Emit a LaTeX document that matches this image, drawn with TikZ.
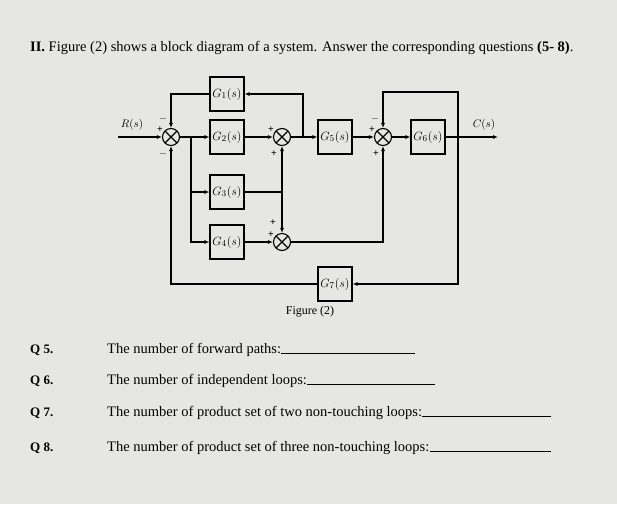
\documentclass[tikz,border=0pt]{standalone}
\usepackage{fontspec}
\setmainfont{Liberation Serif}
\usetikzlibrary{arrows.meta}
\definecolor{bg}{HTML}{E6E6E4}
\begin{document}
\begin{tikzpicture}[x=1pt,y=-1pt,
 blk/.style={draw,line width=1.1pt,minimum width=34pt,minimum height=34pt,inner sep=0pt,font=\fontsize{12.5}{13}\selectfont},
 sm/.style={draw,circle,line width=1.1pt,minimum size=17pt,inner sep=0pt,path picture={\draw[line width=1.1pt] ([shift={(-6pt,6pt)}]path picture bounding box.center) -- ++(12pt,-12pt) ([shift={(-6pt,-6pt)}]path picture bounding box.center) -- ++(12pt,12pt);}},
 ln/.style={line width=1.1pt},
 ar/.style={ln,-{Latex[length=5pt,width=4pt]}},
 sg/.style={font=\fontsize{10}{10}\selectfont\bfseries,inner sep=0pt},
 txt/.style={font=\fontsize{14.5}{16}\selectfont,anchor=base west,inner sep=0pt},
 bl/.style={line width=0.8pt}]
\fill[bg] (0,0) rectangle (617,504);
\useasboundingbox (0,0) rectangle (617,504);
\node[txt] (hd) at (30,51) {\textbf{II.} Figure (2) shows a block diagram of a system. Answer the corresponding questions \textbf{(5- 8)}.};
\node[sm] (s1) at (171,137) {};
\node[sm] (s2) at (282,137) {};
\node[sm] (s3) at (282,242) {};
\node[sm] (s4) at (383,137) {};
\node[blk] (g1) at (227,94) {$G_1(s)$};
\node[blk] (g2) at (227,137) {$G_2(s)$};
\node[blk] (g3) at (227,192) {$G_3(s)$};
\node[blk] (g4) at (227,242) {$G_4(s)$};
\node[blk] (g5) at (335,137) {$G_5(s)$};
\node[blk] (g6) at (428,137) {$G_6(s)$};
\node[blk] (g7) at (335,284) {$G_7(s)$};
\coordinate (in) at (118,137);
\coordinate (out) at (498,137);
\coordinate (b1) at (191,137);
\coordinate (b2) at (303,137);
\coordinate (b3) at (458,137);
\coordinate (j3) at (282,192);
\coordinate (e5) at (415,0);
\coordinate (e6) at (435,0);
\coordinate (e7) at (551,0);
\node[font=\fontsize{10.5}{11}\selectfont,anchor=south] (rl) at (132,134) {$R(s)$};
\node[font=\fontsize{10.5}{11}\selectfont,anchor=south] (cl) at (484,134) {$C(s)$};
\draw[ar] (in) -- (s1);
\draw[ln] (s1) -- (b1);
\draw[ar] (b1) -- (g2);
\draw[ar] (b1) |- (g3);
\draw[ar] (b1) |- (g4);
\draw[ar] (g2) -- (s2);
\draw[ln] (s2) -- (b2);
\draw[ar] (b2) -- (g5);
\draw[ar] (b2) |- (g1);
\draw[ar] (g1) -| (s1);
\draw[ar] (g5) -- (s4);
\draw[ar] (s4) -- (g6);
\draw[ar] (g6) -- (out);
\draw[ar] (b3) |- (383,92) -- (s4);
\draw[ar] (b3) |- (g7);
\draw[ar] (g7) -| (s1);
\draw[ln] (g3) -- (j3);
\draw[ar] (j3) -- (s2);
\draw[ar] (j3) -- (s3);
\draw[ar] (g4) -- (s3);
\draw[ar] (s3) -| (s4);
\node[sg] at (160,130) {+};
\node[sg] at (163,119) {$-$};
\node[sg] at (163,154) {$-$};
\node[sg] at (271,130) {+};
\node[sg] at (274,154) {+};
\node[sg] at (271,235) {+};
\node[sg] at (273,223) {+};
\node[sg] at (372,130) {+};
\node[sg] at (375,119) {$-$};
\node[sg] at (376,154) {+};
\node[font=\fontsize{12}{13}\selectfont] (cap) at (310,312) {Figure (2)};
\node[txt,font=\fontsize{13}{15}\selectfont\bfseries] (q5) at (30,353) {Q 5.};
\node[txt,font=\fontsize{13}{15}\selectfont\bfseries] (q6) at (30,384) {Q 6.};
\node[txt,font=\fontsize{13}{15}\selectfont\bfseries] (q7) at (30,416) {Q 7.};
\node[txt,font=\fontsize{13}{15}\selectfont\bfseries] (q8) at (30,451) {Q 8.};
\node[txt] (t5) at (107,353) {The number of forward paths:};
\node[txt] (t6) at (107,384) {The number of independent loops:};
\node[txt] (t7) at (107,416) {The number of product set of two non-touching loops:};
\node[txt] (t8) at (107,451) {The number of product set of three non-touching loops:};
\draw[bl] (t5.base east) -- (t5.base east -| e5);
\draw[bl] (t6.base east) -- (t6.base east -| e6);
\draw[bl] (t7.base east) -- (t7.base east -| e7);
\draw[bl] (t8.base east) -- (t8.base east -| e7);
\end{tikzpicture}
\end{document}
